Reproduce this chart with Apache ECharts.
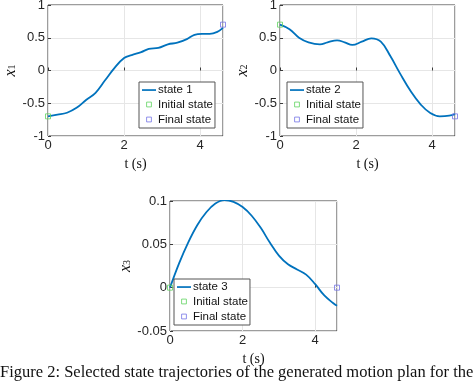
<!DOCTYPE html>
<html>
<head>
<meta charset="utf-8">
<script src="https://cdn.jsdelivr.net/npm/echarts@6/dist/echarts.min.js"></script>
<style>
html,body{margin:0;padding:0;background:#fff;}
#c{width:474px;height:381px;}
</style>
</head>
<body>
<div id="c"></div>
<script>
// ---- data ----
const t1 = [0, 0.25, 0.5, 0.75, 1.0, 1.25, 1.5, 1.75, 2.0, 2.2, 2.45, 2.65, 2.9, 3.15, 3.4, 3.65, 3.85, 4.05, 4.25, 4.45, 4.6];
const state1 = [-0.70, -0.675, -0.645, -0.57, -0.45, -0.34, -0.15, 0.04, 0.19, 0.235, 0.28, 0.33, 0.345, 0.40, 0.425, 0.48, 0.545, 0.56, 0.56, 0.59, 0.65];
const t2 = [0, 0.25, 0.5, 0.75, 1.05, 1.25, 1.5, 1.7, 1.9, 2.15, 2.4, 2.65, 2.9, 3.15, 3.45, 3.7, 3.95, 4.2, 4.45, 4.6];
const state2 = [0.70, 0.63, 0.50, 0.43, 0.40, 0.43, 0.46, 0.43, 0.39, 0.44, 0.49, 0.44, 0.22, -0.04, -0.33, -0.52, -0.65, -0.70, -0.69, -0.665];
const t3 = [0, 0.25, 0.5, 0.75, 1.0, 1.25, 1.5, 1.75, 2.0, 2.25, 2.5, 2.75, 3.0, 3.25, 3.5, 3.75, 4.0, 4.25, 4.5, 4.6];
const state3 = [0, 0.028, 0.052, 0.072, 0.087, 0.097, 0.101, 0.099, 0.093, 0.083, 0.069, 0.052, 0.037, 0.027, 0.021, 0.015, 0.004, -0.009, -0.018, -0.021];
const initialStates = [[0, -0.7], [0, 0.7], [0, 0]];
const finalStates = [[4.6, 0.7], [4.6, -0.7], [4.6, 0]];
const tMax = 4.6;
const xTickStep = 2;
const yRanges = [[-1, 1, 0.5], [-1, 1, 0.5], [-0.05, 0.1, 0.05]];
const yNames = ['1', '2', '3'];
const lineNames = ['state 1', 'state 2', 'state 3'];
const caption = 'Figure 2: Selected state trajectories of the generated motion plan for the';

// ---- styling ----
const BLUE = '#0072BD';
const GREEN = '#5fd35f';
const PURPLE = '#7474e6';
const AXIS = '#3a3a3a';
const TXT = '#262626';
const SANS = 'Liberation Sans, Arial, sans-serif';
const SERIF = 'Liberation Serif, DejaVu Serif, serif';
const grids = [
  {left: 48, top: 5, width: 175, height: 131},
  {left: 280, top: 5, width: 175, height: 131},
  {left: 170, top: 201, width: 167, height: 130}
];
const legendPos = [{left: 139, top: 82}, {left: 287, top: 82}, {left: 174, top: 279}];
const SQ = 'path://M0,0M10,10M3,3h4v4h-4z';
const LN = 'path://M0,0M14,12M0,5.2h14v1.7h-14z';
const fmt = v => String(+(+v).toFixed(4));

const option = {
  animation: false,
  backgroundColor: '#fff',
  grid: grids.map(g => Object.assign({show: true, borderColor: AXIS, borderWidth: 1, backgroundColor: '#fff', containLabel: false, outerBoundsMode: 'none'}, g)),
  xAxis: grids.map((g, i) => ({
    gridIndex: i, type: 'value', min: 0, max: tMax, interval: xTickStep,
    name: 't (s)', nameLocation: 'middle', nameGap: 21,
    nameTextStyle: {fontFamily: SERIF, fontSize: 14, color: '#111'},
    axisLine: {show: false},
    axisTick: {show: true, inside: true, length: 3, lineStyle: {color: AXIS}},
    axisLabel: {fontFamily: SANS, fontSize: 13, color: TXT, margin: 3, showMaxLabel: false, formatter: fmt},
    splitLine: {show: true, lineStyle: {color: '#e6e6e6', width: 1}}
  })),
  yAxis: grids.map((g, i) => ({
    gridIndex: i, type: 'value', min: yRanges[i][0], max: yRanges[i][1], interval: yRanges[i][2],
    name: '{v|x}{s|' + yNames[i] + '}', nameLocation: 'middle', nameGap: i === 2 ? 33 : 25, nameRotate: 90,
    nameTextStyle: {
      color: '#111',
      rich: {
        v: {fontFamily: SERIF, fontStyle: 'italic', fontSize: 16, lineHeight: 15, verticalAlign: 'top'},
        s: {fontFamily: SERIF, fontSize: 10, lineHeight: 10, verticalAlign: 'bottom', padding: [8, 0, 0, 0]}
      }
    },
    axisLine: {show: false},
    axisTick: {show: true, inside: true, length: 3, lineStyle: {color: AXIS}},
    axisLabel: {fontFamily: SANS, fontSize: 13, color: TXT, margin: 3, formatter: fmt},
    splitLine: {show: true, lineStyle: {color: '#e6e6e6', width: 1}}
  })),
  legend: grids.map((g, i) => ({
    orient: 'vertical', left: legendPos[i].left, top: legendPos[i].top,
    padding: [2, 2, 2, 3], itemGap: 2, itemWidth: 14, itemHeight: 12,
    backgroundColor: '#fff', borderColor: '#555', borderWidth: 1,
    textStyle: {fontFamily: SANS, fontSize: 11.5, color: '#111', padding: [0, 0, 0, -3]},
    selectedMode: false,
    data: [
      {name: lineNames[i], icon: LN, itemStyle: {color: BLUE, borderWidth: 0}},
      {name: 'Initial state', icon: SQ, itemStyle: {color: 'rgba(0,0,0,0)', borderColor: GREEN, borderWidth: 1}},
      {name: 'Final state', icon: SQ, itemStyle: {color: 'rgba(0,0,0,0)', borderColor: PURPLE, borderWidth: 1}}
    ]
  })),
  series: []
};

const ts = [t1, t2, t3];
const ys = [state1, state2, state3];
for (let i = 0; i < 3; i++) {
  option.series.push({
    name: lineNames[i], type: 'line', xAxisIndex: i, yAxisIndex: i,
    data: ts[i].map((t, k) => [t, ys[i][k]]),
    symbol: 'none', smooth: 0.4, lineStyle: {color: BLUE, width: 1.8}, itemStyle: {color: BLUE}, z: 3
  });
  option.series.push({
    name: 'Initial state', type: 'scatter', xAxisIndex: i, yAxisIndex: i, clip: false,
    data: [initialStates[i]], symbol: 'rect', symbolSize: 5,
    itemStyle: {color: 'rgba(0,0,0,0)', borderColor: GREEN, borderWidth: 1}, z: 4
  });
  option.series.push({
    name: 'Final state', type: 'scatter', xAxisIndex: i, yAxisIndex: i, clip: false,
    data: [finalStates[i]], symbol: 'rect', symbolSize: 5,
    itemStyle: {color: 'rgba(0,0,0,0)', borderColor: PURPLE, borderWidth: 1}, z: 4
  });
}
option.graphic = [{
  type: 'text', left: 0, top: 364,
  style: {text: caption, font: '16.5px ' + SERIF, fill: '#111'}
}];

const chart = echarts.init(document.getElementById('c'), null, {renderer: 'canvas'});
chart.setOption(option);
</script>
</body>
</html>
